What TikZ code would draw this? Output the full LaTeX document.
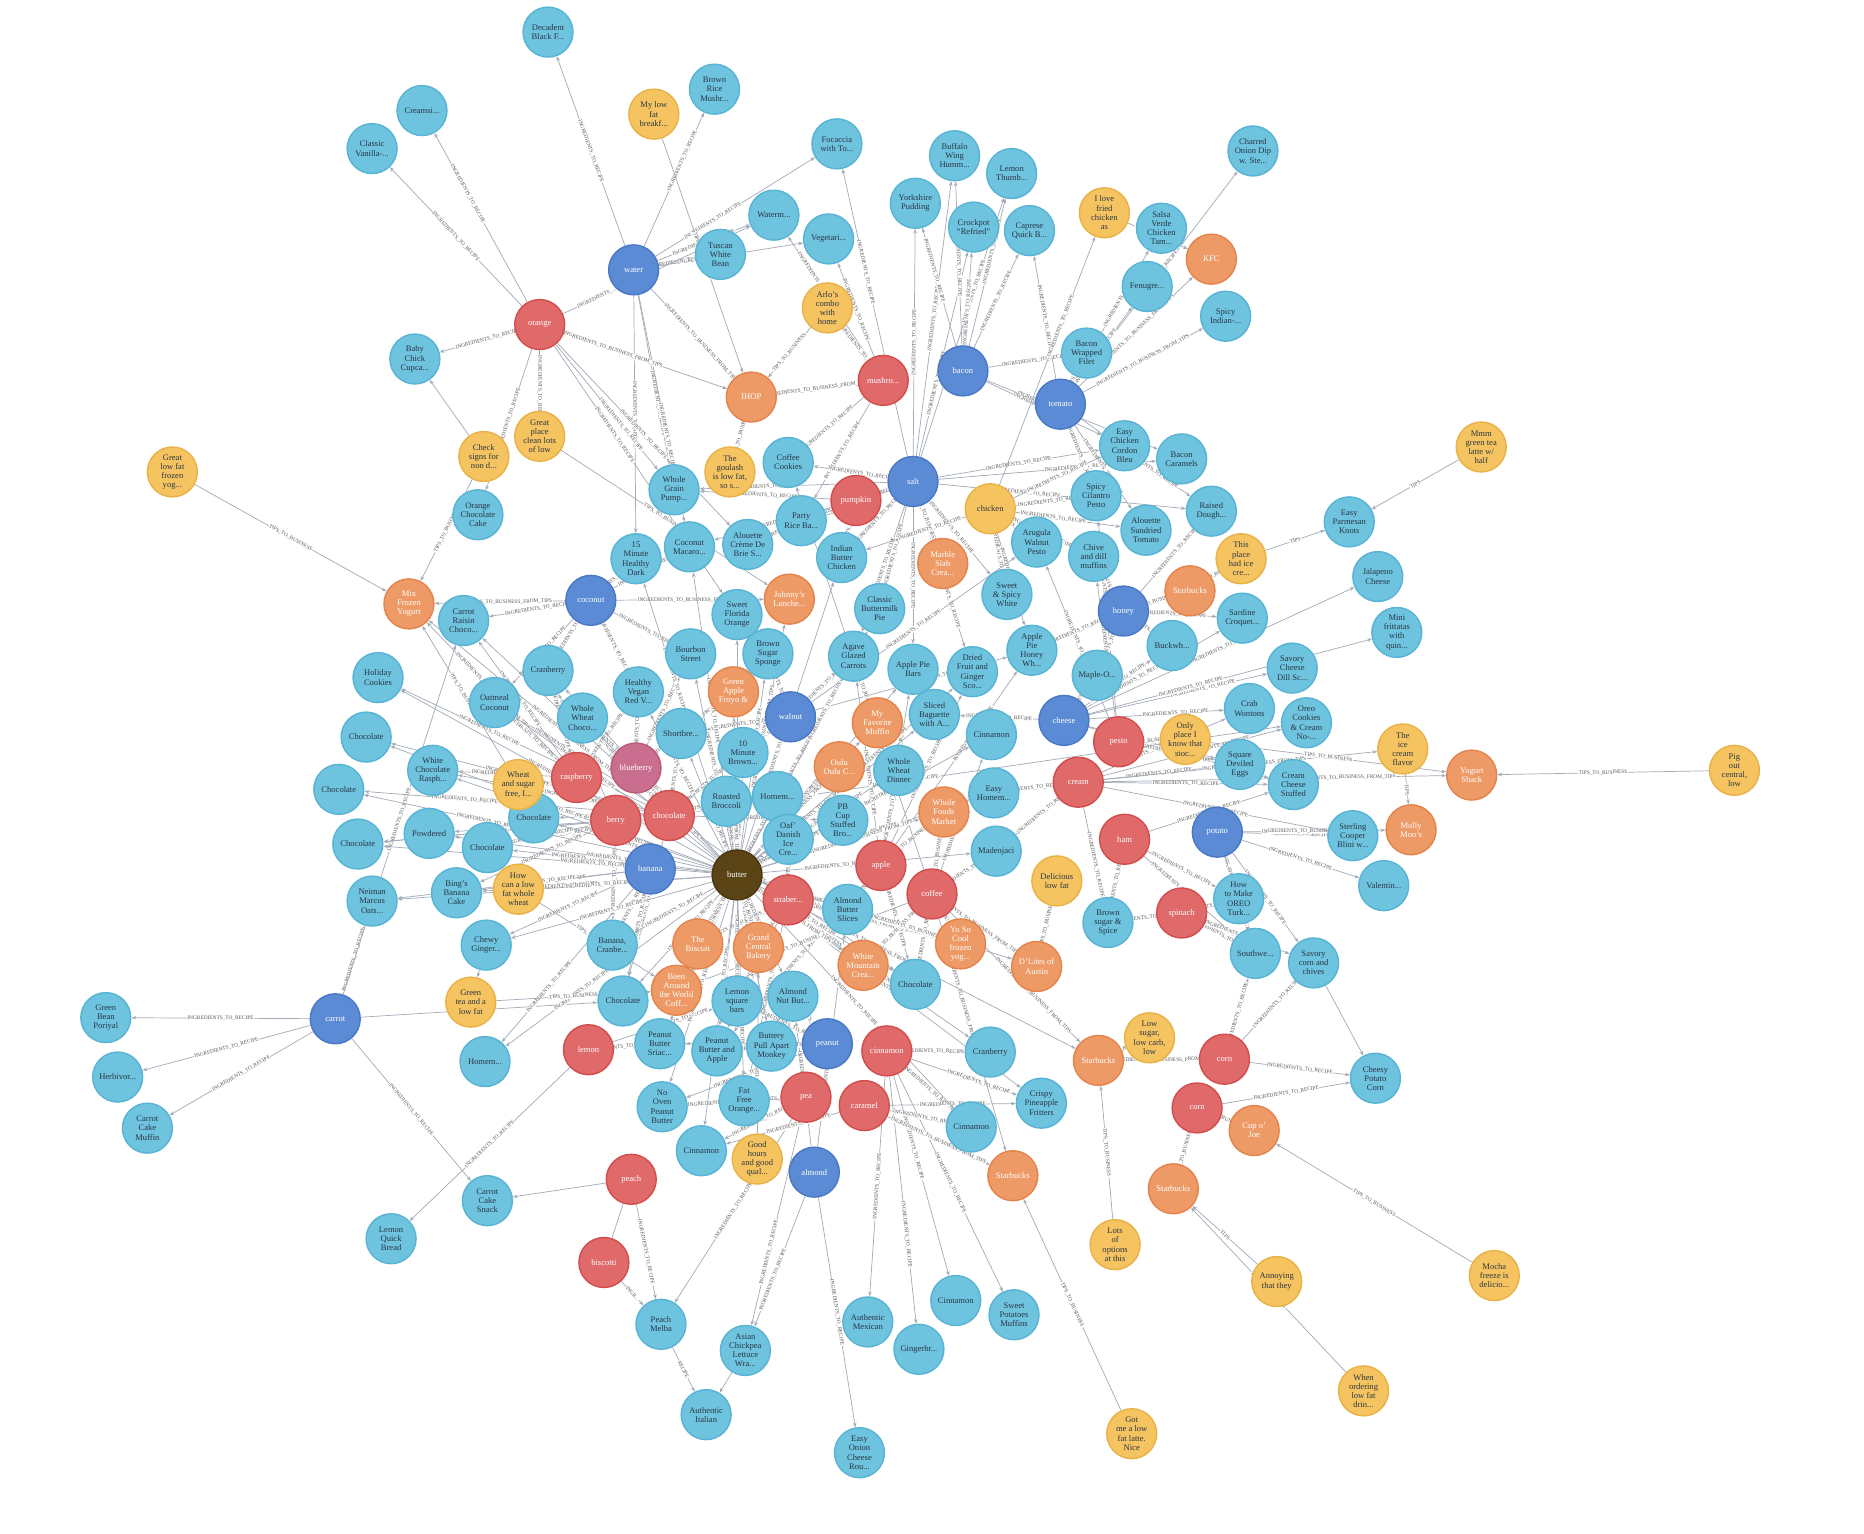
\documentclass[tikz,border=0pt]{standalone}
\usepackage{fontspec}
\setmainfont{Liberation Serif}
\usetikzlibrary{arrows.meta,backgrounds}
\definecolor{recf}{HTML}{6EC3DF}
\definecolor{recd}{HTML}{58B4D4}
\definecolor{ingf}{HTML}{5B8BD5}
\definecolor{ingd}{HTML}{4A78C6}
\definecolor{redf}{HTML}{E06A6A}
\definecolor{redd}{HTML}{D44D4D}
\definecolor{bizf}{HTML}{EE9A66}
\definecolor{bizd}{HTML}{E5834C}
\definecolor{tipf}{HTML}{F5C460}
\definecolor{tipd}{HTML}{E8B247}
\definecolor{pinkf}{HTML}{C96E8F}
\definecolor{pinkd}{HTML}{B95C7E}
\definecolor{brnf}{HTML}{5A4416}
\definecolor{brnd}{HTML}{4A3610}
\definecolor{edgec}{HTML}{A3AAB8}
\definecolor{labc}{HTML}{575757}
\definecolor{darktxt}{HTML}{2A3644}
\newcommand\ITR{INGREDIENTS\_TO\_RECIPE}
\newcommand\TTB{TIPS\_TO\_BUSINESS}
\newcommand\IBT{INGREDIENTS\_TO\_BUSINESS\_FROM\_TIPS}
\newcommand\hub[3]{\foreach \t [count=\i] in {#3} {\pgfmathsetmacro\pp{0.36+0.14*mod(\i,3)}\draw[conn] (#1) -- node[lab,pos=\pp]{#2} (\t);}}
\begin{document}
\begin{tikzpicture}[x=1pt,y=-1pt,
 nd/.style={circle,minimum size=42pt,inner sep=0pt,line width=1.2pt,align=center,font=\fontsize{7.2}{7.7}\selectfont},
 rec/.style={nd,fill=recf,draw=recd,text=darktxt},
 ing/.style={nd,fill=ingf,draw=ingd,text=white},
 rd/.style={nd,fill=redf,draw=redd,text=white},
 biz/.style={nd,fill=bizf,draw=bizd,text=white},
 tp/.style={nd,fill=tipf,draw=tipd,text=darktxt},
 conn/.style={draw=edgec,line width=0.6pt,-{Stealth[length=4pt,width=3pt]}},
 lab/.style={sloped,font=\fontsize{4.5}{5}\selectfont,text=labc,fill=white,inner sep=0.5pt}]
\useasboundingbox (0,0) rectangle (1568,1290);
% ---------- recipes
\node[rec] (decad) at (461,27) {Decadent\\Black F...};
\node[rec] (creamsi) at (355,93) {Creamsi...};
\node[rec] (classv) at (313,125) {Classic\\Vanilla-...};
\node[rec] (brownr) at (601,75) {Brown\\Rice\\Mushr...};
\node[rec] (focac) at (704,121) {Focaccia\\with To...};
\node[rec] (buffw) at (803,131) {Buffalo\\Wing\\Humm...};
\node[rec] (lemth) at (851,146) {Lemon\\Thumb...};
\node[rec] (yorks) at (770,171) {Yorkshire\\Pudding};
\node[rec] (charred) at (1054,127) {Charred\\Onion Dip\\w. Ste...};
\node[rec] (waterm) at (651,181) {Waterm...};
\node[rec] (vegetari) at (697,201) {Vegetari...};
\node[rec] (tuscan) at (606,214) {Tuscan\\White\\Bean};
\node[rec] (crockpot) at (819,191) {Crockpot\\``Refried''};
\node[rec] (caprese) at (866,194) {Caprese\\Quick B...};
\node[rec] (salsav) at (977,192) {Salsa\\Verde\\Chicken\\Tam...};
\node[rec] (fenug) at (965,241) {Fenugre...};
\node[rec] (spicyind) at (1031,266) {Spicy\\Indian-...};
\node[rec] (babyc) at (349,302) {Baby\\Chick\\Cupca...};
\node[rec] (baconw) at (914,297) {Bacon\\Wrapped\\Filet};
\node[rec] (wholeg) at (567,412) {Whole\\Grain\\Pump...};
\node[rec] (coffeec) at (663,389) {Coffee\\Cookies};
\node[rec] (easycc) at (946,375) {Easy\\Chicken\\Cordon\\Bleu};
\node[rec] (baconc) at (994,386) {Bacon\\Caramels};
\node[rec] (spicyc) at (922,417) {Spicy\\Cilantro\\Pesto};
\node[rec] (raised) at (1019,430) {Raised\\Dough...};
\node[rec] (easyp) at (1135,439) {Easy\\Parmesan\\Knots};
\node[rec] (orangec) at (402,433) {Orange\\Chocolate\\Cake};
\node[rec] (partyr) at (674,438) {Party\\Rice Ba...};
\node[rec] (alouets) at (964,446) {Alouette\\Sundried\\Tomato};
\node[rec] (arugula) at (872,456) {Arugula\\Walnut\\Pesto};
\node[rec] (chive) at (920,468) {Chive\\and dill\\muffins};
\node[rec] (coconm) at (580,460) {Coconut\\Macaro...};
\node[rec] (alouetc) at (629,458) {Alouette\\Crème De\\Brie S...};
\node[rec] (fifteen) at (535,470) {15\\Minute\\Healthy\\Dark};
\node[rec] (indian) at (708,469) {Indian\\Butter\\Chicken};
\node[rec] (jalap) at (1159,485) {Jalapeno\\Cheese};
\node[rec] (sweetsp) at (847,500) {Sweet\\\& Spicy\\White};
\node[rec] (carrotr) at (390,522) {Carrot\\Raisin\\Choco...};
\node[rec] (classicb) at (740,512) {Classic\\Buttermilk\\Pie};
\node[rec] (sardine) at (1045,520) {Sardine\\Croquet...};
\node[rec] (minif) at (1175,532) {Mini\\frittatas\\with\\quin...};
\node[rec] (sweetf) at (620,517) {Sweet\\Florida\\Orange};
\node[rec] (buckw) at (986,543) {Buckwh...};
\node[rec] (holiday) at (318,570) {Holiday\\Cookies};
\node[rec] (bourbon) at (581,550) {Bourbon\\Street};
\node[rec] (brownss) at (646,550) {Brown\\Sugar\\Sponge};
\node[rec] (agave) at (718,552) {Agave\\Glazed\\Carrots};
\node[rec] (applepb) at (768,563) {Apple Pie\\Bars};
\node[rec] (dried) at (818,565) {Dried\\Fruit and\\Ginger\\Sco...};
\node[rec] (applephw) at (868,547) {Apple\\Pie\\Honey\\Wh...};
\node[rec] (maple) at (923,568) {Maple-O...};
\node[rec] (savoryc) at (1087,562) {Savory\\Cheese\\Dill Sc...};
\node[rec] (cranb1) at (461,564) {Cranberry};
\node[rec] (healthy) at (537,582) {Healthy\\Vegan\\Red V...};
\node[rec] (oatmeal) at (416,591) {Oatmeal\\Coconut};
\node[rec] (wholewc) at (490,604) {Whole\\Wheat\\Choco...};
\node[rec] (sliced) at (786,601) {Sliced\\Baguette\\with A...};
\node[rec] (crab) at (1051,596) {Crab\\Wontons};
\node[rec] (oreo) at (1099,608) {Oreo\\Cookies\\\& Cream\\No-...};
\node[rec] (choc1) at (308,620) {Chocolate};
\node[rec] (shortb) at (573,617) {Shortbre...};
\node[rec] (cinn1) at (834,618) {Cinnamon};
\node[rec] (tenmin) at (625,633) {10\\Minute\\Brown...};
\node[rec] (squared) at (1043,643) {Square\\Deviled\\Eggs};
\node[rec] (whitecr) at (364,648) {White\\Chocolate\\Rasph...};
\node[rec] (wholewd) at (756,648) {Whole\\Wheat\\Dinner};
\node[rec] (creamch) at (1088,660) {Cream\\Cheese\\Stuffed};
\node[rec] (choc2) at (285,664) {Chocolate};
\node[rec] (easyh) at (836,667) {Easy\\Homem...};
\node[rec] (roasted) at (611,674) {Roasted\\Broccoli};
\node[rec] (homem1) at (654,670) {Homem...};
\node[rec] (choc3) at (449,688) {Chocolate};
\node[rec] (powdered) at (361,701) {Powdered};
\node[rec] (choc4) at (301,710) {Chocolate};
\node[rec] (choc5) at (410,713) {Chocolate};
\node[rec] (oaf) at (663,706) {Oaf'\\Danish\\Ice\\Cre...};
\node[rec] (pbcup) at (709,690) {PB\\Cup\\Stuffed\\Bro...};
\node[rec] (sterling) at (1138,703) {Sterling\\Cooper\\Blini w...};
\node[rec] (madenj) at (838,716) {Madenjaci};
\node[rec] (bings) at (384,751) {Bing's\\Banana\\Cake};
\node[rec] (neiman) at (313,758) {Neiman\\Marcus\\Oats...};
\node[rec] (valent) at (1164,745) {Valentin...};
\node[rec] (almondbs) at (713,765) {Almond\\Butter\\Slices};
\node[rec] (howto) at (1042,756) {How\\to Make\\OREO\\Turk...};
\node[rec] (brownsug) at (932,776) {Brown\\sugar \&\\Spice};
\node[rec] (bananac) at (515,795) {Banana,\\Cranbe...};
\node[rec] (chewy) at (409,795) {Chewy\\Ginger...};
\node[rec] (southw) at (1056,802) {Southwe...};
\node[rec] (savcorn) at (1105,810) {Savory\\corn and\\chives};
\node[rec] (choc6) at (770,828) {Chocolate};
\node[rec] (choc7) at (524,842) {Chocolate};
\node[rec] (lemsq) at (620,842) {Lemon\\square\\bars};
\node[rec] (almondnb) at (667,838) {Almond\\Nut But...};
\node[rec] (greenbean) at (89,856) {Green\\Bean\\Poriyal};
\node[rec] (pbsri) at (555,878) {Peanut\\Butter\\Sriac...};
\node[rec] (pbapple) at (603,884) {Peanut\\Butter and\\Apple};
\node[rec] (buttery) at (649,880) {Buttery\\Pull Apart\\Monkey};
\node[rec] (cranb2) at (833,885) {Cranberry};
\node[rec] (homem2) at (408,893) {Homem...};
\node[rec] (herbiv) at (99,906) {Herbivor...};
\node[rec] (cheesy) at (1157,907) {Cheesy\\Potato\\Corn};
\node[rec] (crispy) at (876,928) {Crispy\\Pineapple\\Fritters};
\node[rec] (nooven) at (557,931) {No\\Oven\\Peanut\\Butter};
\node[rec] (fatfree) at (626,926) {Fat\\Free\\Orange...};
\node[rec] (carrotcm) at (124,949) {Carrot\\Cake\\Muffin};
\node[rec] (cinn2) at (590,968) {Cinnamon};
\node[rec] (cinn3) at (817,948) {Cinnamon};
\node[rec] (carrotcs) at (410,1010) {Carrot\\Cake\\Snack};
\node[rec] (lemonqb) at (329,1042) {Lemon\\Quick\\Bread};
\node[rec] (cinn4) at (804,1094) {Cinnamon};
\node[rec] (sweetpot) at (853,1106) {Sweet\\Potatoes\\Muffins};
\node[rec] (authmex) at (730,1112) {Authentic\\Mexican};
\node[rec] (peachm) at (556,1114) {Peach\\Melba};
\node[rec] (ginger) at (773,1135) {Gingerbr...};
\node[rec] (asian) at (627,1136) {Asian\\Chickpea\\Lettuce\\Wra...};
\node[rec] (authit) at (594,1190) {Authentic\\Italian};
\node[rec] (easyo) at (723,1222) {Easy\\Onion\\Cheese\\Rou...};
% ---------- ingredients (blue)
\node[ing] (water) at (533,227) {water};
\node[ing] (bacon) at (810,312) {bacon};
\node[ing] (tomato) at (892,340) {tomato};
\node[ing] (salt) at (768,405) {salt};
\node[ing] (coconut) at (497,505) {coconut};
\node[ing] (honey) at (945,514) {honey};
\node[ing] (walnut) at (665,603) {walnut};
\node[ing] (cheese) at (895,606) {cheese};
\node[ing] (potato) at (1024,700) {potato};
\node[ing] (banana) at (547,731) {banana};
\node[ing] (carrot) at (282,857) {carrot};
\node[ing] (peanut) at (696,878) {peanut};
\node[ing] (almond) at (685,986) {almond};
% ---------- ingredients (red)
\node[rd] (orange) at (454,273) {orange};
\node[rd] (mushro) at (743,320) {mushro...};
\node[rd] (pumpkin) at (720,421) {pumpkin};
\node[rd] (pesto) at (941,624) {pesto};
\node[rd] (raspberry) at (485,654) {raspberry};
\node[rd] (cream) at (907,658) {cream};
\node[rd] (berry) at (518,690) {berry};
\node[rd] (chocolate) at (563,686) {chocolate};
\node[rd] (ham) at (946,706) {ham};
\node[rd] (apple) at (741,728) {apple};
\node[rd] (straw) at (663,757) {straber...};
\node[rd] (coffee) at (784,752) {coffee};
\node[rd] (spinach) at (994,768) {spinach};
\node[rd] (lemon) at (495,883) {lemon};
\node[rd] (cinnamon) at (746,884) {cinnamon};
\node[rd] (corna) at (1030,891) {corn};
\node[rd] (pea) at (678,923) {pea};
\node[rd] (caramel) at (727,930) {caramel};
\node[rd] (cornb) at (1007,932) {corn};
\node[rd] (peach) at (531,992) {peach};
\node[rd] (biscotti) at (508,1062) {biscotti};
\node[nd,fill=pinkf,draw=pinkd,text=white] (blueberry) at (535,646) {blueberry};
\node[nd,fill=brnf,draw=brnd,text=white] (butter) at (620,736) {butter};
\node[tp] (chicken) at (833,428) {chicken};
% ---------- businesses
\node[biz] (kfc) at (1019,218) {KFC};
\node[biz] (ihop) at (632,334) {IHOP};
\node[biz] (marble) at (793,474) {Marble\\Slab\\Crea...};
\node[biz] (starba) at (1001,497) {Starbucks};
\node[biz] (mixfy) at (344,508) {Mix\\Frozen\\Yogurt};
\node[biz] (johnny) at (664,504) {Johnny's\\Lunche...};
\node[biz] (greenapple) at (617,582) {Green\\Apple\\Froyo \&};
\node[biz] (myfav) at (738,608) {My\\Favorite\\Muffin};
\node[biz] (oulu) at (706,645) {Oulu\\Oulu C...};
\node[biz] (yogshack) at (1238,652) {Yogurt\\Shack};
\node[biz] (wholef) at (794,683) {Whole\\Foods\\Market};
\node[biz] (molly) at (1187,698) {Molly\\Moo's};
\node[biz] (biscuit) at (587,794) {The\\Biscuit};
\node[biz] (grandc) at (638,797) {Grand\\Central\\Bakery};
\node[biz] (yoso) at (808,794) {Yo So\\Cool\\frozen\\yog...};
\node[biz] (whitem) at (726,812) {White\\Mountain\\Crea...};
\node[biz] (dlites) at (872,813) {D'Lites of\\Austin};
\node[biz] (beenar) at (569,833) {Been\\Around\\the World\\Coff...};
\node[biz] (starbb) at (924,892) {Starbucks};
\node[biz] (cupjoe) at (1055,951) {Cup o'\\Joe};
\node[biz] (starbc) at (852,989) {Starbucks};
\node[biz] (starbd) at (987,1000) {Starbucks};
% ---------- tips
\node[tp] (mylowfat) at (550,96) {My low\\fat\\breakf...};
\node[tp] (ilove) at (929,179) {I love\\fried\\chicken\\as};
\node[tp] (arlo) at (696,259) {Arlo's\\combo\\with\\home};
\node[tp] (mmm) at (1246,376) {Mmm\\green tea\\latte w/\\half};
\node[tp] (checks) at (407,384) {Check\\signs for\\non d...};
\node[tp] (greatpl) at (454,367) {Great\\place\\clean lots\\of low};
\node[tp] (greatlf) at (145,397) {Great\\low fat\\frozen\\yog...};
\node[tp] (goulash) at (614,397) {The\\goulash\\is low fat,\\so s...};
\node[tp] (thisplace) at (1044,470) {This\\place\\had ice\\cre...};
\node[tp] (onlyp) at (997,622) {Only\\place I\\know that\\stoc...};
\node[tp] (icecream) at (1180,630) {The\\ice\\cream\\flavor};
\node[tp] (pigout) at (1459,648) {Pig\\out\\central,\\low};
\node[tp] (wheatsf) at (436,660) {Wheat\\and sugar\\free, I...};
\node[tp] (howcan) at (436,748) {How\\can a low\\fat whole\\wheat};
\node[tp] (delic) at (889,741) {Delicious\\low fat};
\node[tp] (greentea) at (396,843) {Green\\tea and a\\low fat};
\node[tp] (lowsug) at (967,873) {Low\\sugar,\\low carb,\\low};
\node[tp] (goodh) at (637,975) {Good\\hours\\and good\\qual...};
\node[tp] (lots) at (938,1047) {Lots\\of\\options\\at this};
\node[tp] (annoy) at (1074,1078) {Annoying\\that they};
\node[tp] (mocha) at (1257,1073) {Mocha\\freeze is\\delicio...};
\node[tp] (when) at (1147,1170) {When\\ordering\\low fat\\drin...};
\node[tp] (gotme) at (952,1206) {Got\\me a low\\fat latte.\\Nice};
% ---------- connectors
\begin{pgfonlayer}{background}
\fill[white] (0,0) rectangle (1568,1290);
\hub{water}{\ITR}{decad,brownr,focac,waterm,tuscan,vegetari,fifteen,wholeg}
\draw[conn] (water) -- node[lab,pos=0.62]{\ITR} (coconm);
\draw[conn] (water) -- node[lab,pos=0.6]{\IBT} (ihop);
\hub{orange}{\ITR}{classv,creamsi,babyc,orangec,wholeg,sweetf,alouetc,greatpl}
\draw[conn] (orange) -- node[lab,pos=0.18]{INGREDIENTS\_...} (waterm);
\draw[conn] (orange) -- node[lab,pos=0.3]{\IBT} (ihop);
\draw[conn] (mylowfat) -- node[lab]{\TTB} (ihop);
\draw[conn] (arlo) -- node[lab]{\TTB} (ihop);
\draw[conn] (goulash) -- node[lab]{\TTB} (ihop);
\draw[conn] (checks) -- node[lab]{\TTB} (mixfy);
\draw[conn] (greatlf) -- node[lab]{\TTB} (mixfy);
\draw[conn] (checks) -- (babyc);
\hub{mushro}{\ITR}{vegetari,waterm,arlo,partyr,coffeec}
\draw[conn] (mushro) -- node[lab]{\IBT} (ihop);
\hub{salt}{\ITR}{yorks,focac,crockpot,buffw,lemth,partyr,indian,classicb,coffeec,applepb,dried,sweetsp,easycc,baconc,raised,agave,wholeg,alouetc}
\draw[conn] (salt) -- node[lab]{\IBT} (marble);
\hub{bacon}{\ITR}{buffw,lemth,crockpot,caprese,baconw,baconc,easycc,yorks}
\hub{tomato}{\ITR}{charred,salsav,fenug,alouets,spicyc,baconw,caprese,raised}
\draw[conn] (tomato) -- node[lab]{\IBT} (spicyind);
\draw[conn] (tomato) -- node[lab]{\IBT} (kfc);
\hub{chicken}{\ITR}{easycc,spicyc,arugula,chive,sweetsp,indian,applephw,ilove,alouets}
\hub{pumpkin}{\ITR}{partyr,alouetc,coconm,wholeg,indian}
\hub{coconut}{\ITR}{fifteen,coconm,cranb1,healthy,bourbon,carrotr,oatmeal}
\draw[conn] (coconut) -- node[lab]{\IBT} (mixfy);
\draw[conn] (coconut) -- node[lab]{\IBT} (johnny);
\foreach \t in {greenbean,herbiv,carrotcm,neiman,carrotcs,carrotr}
  \draw[conn] (carrot) -- node[lab]{\ITR} (\t);
\draw[conn] (carrot) -- node[lab,pos=0.5]{INGR...} (choc7);
\draw[conn] (chewy) -- (greentea);
\hub{lemon}{\ITR}{lemonqb,lemsq,pbsri}
\draw[conn] (peach) -- (carrotcs);
\draw[conn] (peach) -- node[lab]{\ITR} (peachm);
\draw[draw=edgec,line width=0.6pt] (peach) -- (biscotti);
\draw[conn] (biscotti) -- node[lab]{INGR...} (peachm);
\draw[conn] (peachm) -- node[lab]{RECIPE} (authit);
\draw[conn] (asian) -- (authit);
\hub{pea}{\ITR}{peachm,asian,cinn2,fatfree,nooven}
\hub{almond}{\ITR}{easyo,asian,almondbs,almondnb}
\hub{cinnamon}{\ITR}{authmex,ginger,cinn4,sweetpot,crispy,cranb2,cinn3}
\hub{caramel}{\ITR}{crispy,cinn3,cinn2}
\draw[conn] (caramel) -- node[lab]{\IBT} (starbc);
\draw[conn] (gotme) -- node[lab]{\TTB} (starbc);
\draw[conn] (when) -- node[lab]{\TTB} (starbd);
\draw[conn] (annoy) -- node[lab]{TIPS} (starbd);
\draw[conn] (mocha) -- node[lab]{\TTB} (cupjoe);
\draw[conn] (lots) -- node[lab]{\TTB} (starbb);
\draw[conn] (lowsug) -- node[lab]{\TTB} (starbb);
\hub{corna}{\ITR}{cheesy,savcorn,southw}
\draw[conn] (cornb) -- node[lab]{\ITR} (cheesy);
\draw[conn] (cornb) -- node[lab]{\IBT} (cupjoe);
\draw[conn] (corna) -- node[lab]{\IBT} (starbb);
\draw[conn] (cornb) -- node[lab]{\IBT} (starbd);
\draw[conn] (savcorn) -- (cheesy);
\draw[conn] (pigout) -- node[lab]{\TTB} (yogshack);
\draw[conn] (icecream) -- node[lab]{TIPS} (molly);
\draw[conn] (mmm) -- node[lab]{TIPS} (easyp);
\draw[conn] (thisplace) -- node[lab]{TIPS} (easyp);
\hub{potato}{\ITR}{valent,sterling,howto,savcorn,southw}
\draw[conn] (potato) -- node[lab]{\IBT} (molly);
\hub{cream}{\ITR}{creamch,oreo,crab,squared,easyh,madenj,sterling,brownsug}
\draw[conn] (cream) -- node[lab,pos=0.7]{\IBT} (yogshack);
\draw[conn] (cream) -- node[lab,pos=0.55]{\IBT} (icecream);
\hub{cheese}{\ITR}{creamch,savoryc,sardine,buckw,maple,minif,jalap,crab,squared,sliced}
\hub{pesto}{\ITR}{arugula,spicyc,squared,chive}
\draw[conn] (pesto) -- node[lab]{\IBT} (onlyp);
\hub{ham}{\ITR}{howto,brownsug,southw,creamch}
\hub{spinach}{\ITR}{howto,southw,savcorn,brownsug}
\hub{walnut}{\ITR}{arugula,brownss,tenmin,agave,applephw,shortb}
\hub{honey}{\ITR}{applephw,maple,chive,buckw,raised,sardine}
\draw[conn] (honey) -- node[lab]{\IBT} (starba);
\draw[conn] (thisplace) -- node[lab]{\TTB} (starba);
\hub{chocolate}{\ITR}{choc1,choc2,choc3,choc4,choc5,choc6,choc7,holiday,whitecr,wholewc,oatmeal,shortb,tenmin,pbcup,oreo,roasted}
\hub{raspberry}{\ITR}{whitecr,cranb1,healthy,carrotr,oatmeal}
\draw[conn] (raspberry) -- node[lab]{\IBT} (mixfy);
\hub{berry}{\ITR}{powdered,choc5,bings,bananac,cranb1,choc4}
\hub{blueberry}{\ITR}{healthy,shortb,wholewc,bourbon}
\draw[conn] (blueberry) -- node[lab]{\IBT} (greenapple);
\hub{banana}{\ITR}{bings,bananac,neiman,chewy,homem2,choc7}
\hub{straw}{\ITR}{almondbs,lemsq,fatfree,oaf,pbapple}
\hub{straw}{\IBT}{biscuit,grandc,yoso,whitem}
\hub{apple}{\ITR}{applepb,applephw,agave,dried,almondbs,choc6,pbapple,wholewd}
\draw[conn] (apple) -- node[lab]{\IBT} (wholef);
\hub{coffee}{\ITR}{coffeec,madenj,cinn1,choc6}
\hub{coffee}{\IBT}{yoso,whitem,dlites,beenar,starbb,starbc,wholef}
\hub{peanut}{\ITR}{pbsri,pbapple,buttery,nooven,almondnb,lemsq}
\hub{butter}{\ITR}{roasted,homem1,oaf,pbcup,tenmin,shortb,choc3,choc5,powdered,bananac,lemsq,almondnb,pbsri,pbapple,buttery,nooven,fatfree,choc7,almondbs,wholewd,sliced,agave,brownss,sweetf,bourbon,healthy,wholewc,cranb1,oatmeal,whitecr,choc1,choc2,choc4,holiday,bings,neiman,chewy,homem2,madenj,easyh,cinn1,choc6,crispy,cranb2,cinn2,cinn3,classicb,indian,applepb,dried,carrotr,coconm,fifteen}
\hub{butter}{\IBT}{biscuit,grandc,beenar,myfav,oulu,whitem,yoso,dlites,greenapple,johnny,wholef,starbb,mixfy}
\draw[conn] (wheatsf) -- node[lab]{\TTB} (mixfy);
\draw[conn] (howcan) -- node[lab]{\TTB} (beenar);
\draw[conn] (greentea) -- node[lab]{\TTB} (beenar);
\draw[conn] (delic) -- node[lab]{\TTB} (dlites);
\draw[conn] (onlyp) -- node[lab]{\TTB} (yogshack);
\draw[conn] (goodh) -- node[lab]{\TTB} (grandc);
\draw[conn] (greatpl) -- node[lab]{\TTB} (johnny);
\draw[conn] (ilove) -- node[lab]{\TTB} (kfc);
\end{pgfonlayer}
\end{tikzpicture}
\end{document}
